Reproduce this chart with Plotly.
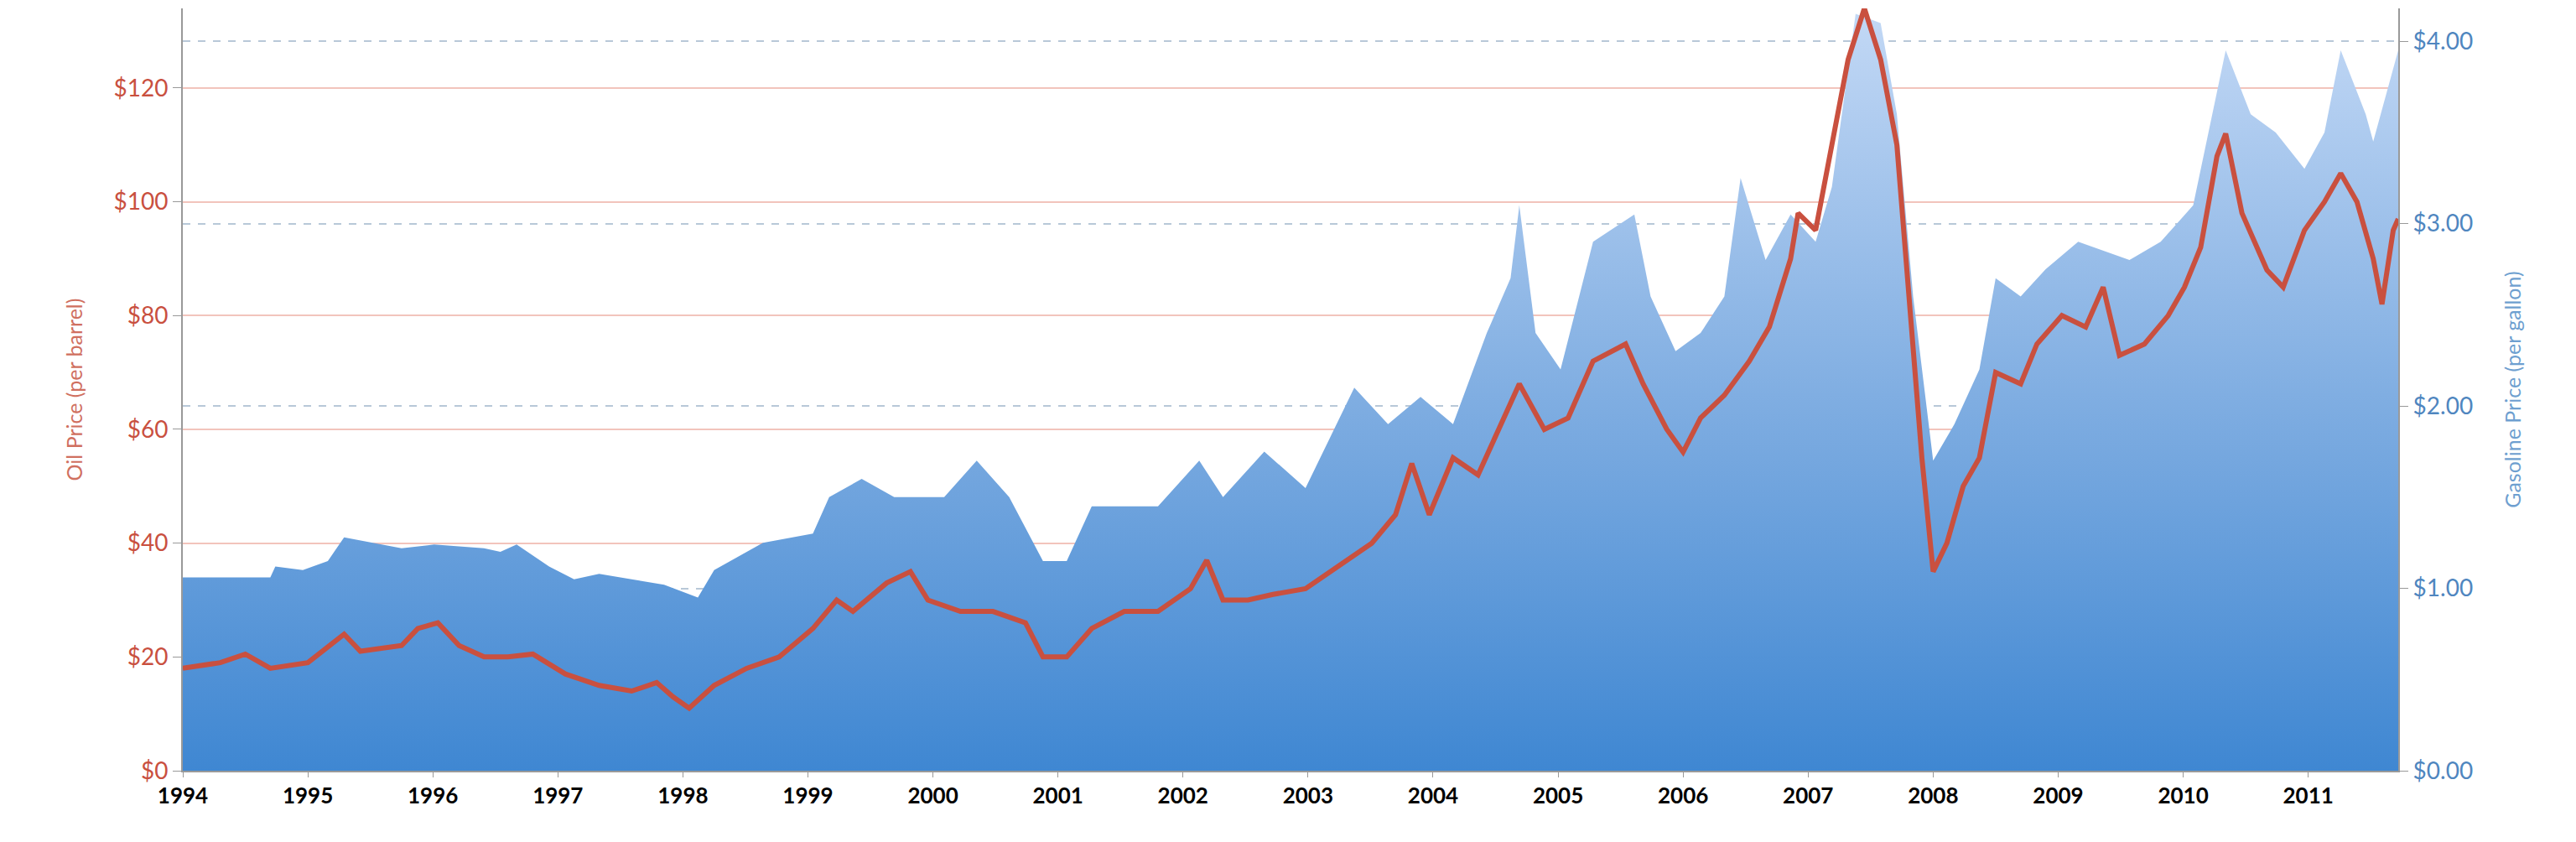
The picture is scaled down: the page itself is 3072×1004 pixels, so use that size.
import plotly.graph_objects as go

# Oil price ($/barrel), x in decimal years on the chart's axis
oil_x = [1994.00, 1994.30, 1994.50, 1994.70, 1995.00, 1995.29, 1995.42, 1995.75, 1995.88, 1996.04,
         1996.21, 1996.41, 1996.60, 1996.80, 1997.06, 1997.33, 1997.59, 1997.79, 1997.92, 1998.05,
         1998.25, 1998.51, 1998.77, 1999.04, 1999.23, 1999.36, 1999.63, 1999.82, 1999.96, 2000.22,
         2000.48, 2000.74, 2000.88, 2001.07, 2001.27, 2001.53, 2001.80, 2002.06, 2002.19, 2002.32,
         2002.52, 2002.72, 2002.98, 2003.24, 2003.51, 2003.70, 2003.83, 2003.97, 2004.16, 2004.36,
         2004.56, 2004.69, 2004.89, 2005.08, 2005.28, 2005.54, 2005.68, 2005.87, 2006.00, 2006.14,
         2006.33, 2006.53, 2006.69, 2006.86, 2006.92, 2007.06, 2007.19, 2007.32, 2007.45, 2007.58,
         2007.71, 2007.82, 2007.91, 2008.00, 2008.11, 2008.24, 2008.37, 2008.50, 2008.70, 2008.83,
         2009.03, 2009.22, 2009.36, 2009.49, 2009.69, 2009.88, 2010.01, 2010.14, 2010.27, 2010.34,
         2010.47, 2010.67, 2010.80, 2010.97, 2011.13, 2011.26, 2011.39, 2011.52, 2011.59, 2011.68,
         2011.72]
oil_y = [18, 19, 20.5, 18, 19, 24, 21, 22, 25, 26,
         22, 20, 20, 20.5, 17, 15, 14, 15.5, 13, 11,
         15, 18, 20, 25, 30, 28, 33, 35, 30, 28,
         28, 26, 20, 20, 25, 28, 28, 32, 37, 30,
         30, 31, 32, 36, 40, 45, 54, 45, 55, 52,
         62, 68, 60, 62, 72, 75, 68, 60, 56, 62,
         66, 72, 78, 90, 98, 95, 110, 125, 134, 125,
         110, 80, 55, 35, 40, 50, 55, 70, 68, 75,
         80, 78, 85, 73, 75, 80, 85, 92, 108, 112,
         98, 88, 85, 95, 100, 105, 100, 90, 82, 95,
         97]

# Gasoline price ($/gallon)
gas_x = [1994.00, 1994.70, 1994.74, 1994.96, 1995.16, 1995.29, 1995.75, 1996.01, 1996.41, 1996.54,
         1996.67, 1996.93, 1997.13, 1997.33, 1997.59, 1997.85, 1998.12, 1998.25, 1998.64, 1999.04,
         1999.17, 1999.43, 1999.69, 2000.09, 2000.35, 2000.61, 2000.88, 2001.07, 2001.27, 2001.80,
         2002.13, 2002.32, 2002.65, 2002.98, 2003.37, 2003.64, 2003.90, 2004.16, 2004.43, 2004.62,
         2004.69, 2004.82, 2005.02, 2005.28, 2005.61, 2005.74, 2005.94, 2006.14, 2006.33, 2006.46,
         2006.66, 2006.86, 2007.06, 2007.19, 2007.38, 2007.58, 2007.71, 2007.84, 2008.00, 2008.17,
         2008.37, 2008.50, 2008.70, 2008.90, 2009.16, 2009.36, 2009.57, 2009.82, 2010.08, 2010.34,
         2010.54, 2010.74, 2010.97, 2011.13, 2011.26, 2011.46, 2011.52, 2011.72]
gas_y = [1.06, 1.06, 1.12, 1.10, 1.15, 1.28, 1.22, 1.24, 1.22, 1.20,
         1.24, 1.12, 1.05, 1.08, 1.05, 1.02, 0.95, 1.10, 1.25, 1.30,
         1.50, 1.60, 1.50, 1.50, 1.70, 1.50, 1.15, 1.15, 1.45, 1.45,
         1.70, 1.50, 1.75, 1.55, 2.10, 1.90, 2.05, 1.90, 2.40, 2.70,
         3.10, 2.40, 2.20, 2.90, 3.05, 2.60, 2.30, 2.40, 2.60, 3.25,
         2.80, 3.05, 2.90, 3.20, 4.15, 4.10, 3.60, 2.60, 1.70, 1.90,
         2.20, 2.70, 2.60, 2.75, 2.90, 2.85, 2.80, 2.90, 3.10, 3.95,
         3.60, 3.50, 3.30, 3.50, 3.95, 3.60, 3.45, 3.95]

years = list(range(1994, 2012))
oil_ticks = [0, 20, 40, 60, 80, 100, 120]
gas_ticks = [0, 1, 2, 3, 4]

OIL_RED = "#c9503f"
GAS_BLUE = "#4f86bf"

fig = go.Figure()

# gasoline area on the base (right) axis so the oil line sits above it
fig.add_trace(go.Scatter(
    x=gas_x, y=gas_y, yaxis="y", mode="lines", line=dict(width=0, color="#a9c8f0"),
    fill="tozeroy",
    fillgradient=dict(type="vertical",
                      colorscale=[[0, "#3f87d2"], [0.45, "#7aaae0"], [1, "#c2d8f5"]]),
    showlegend=False))

fig.add_trace(go.Scatter(
    x=oil_x, y=oil_y, yaxis="y2", mode="lines",
    line=dict(color=OIL_RED, width=6), showlegend=False))

fig.update_layout(
    width=3072, height=1004,
    margin=dict(l=210, r=220, t=2, b=93),
    paper_bgcolor="white", plot_bgcolor="white",
    font=dict(family="Lato, Open Sans, sans-serif"),
    xaxis=dict(range=[1994, 2011.72], tickvals=years, ticktext=["<b>%d</b>" % y for y in years],
               tickfont=dict(size=26, color="black"),
               showgrid=False, showline=True, linecolor="#999999", linewidth=2,
               ticks="outside", ticklen=6, tickcolor="#999999", zeroline=False),
    yaxis=dict(range=[0, 4.18], side="right", tickvals=gas_ticks,
               ticktext=["$%.2f" % v for v in gas_ticks],
               tickfont=dict(size=28, color=GAS_BLUE),
               title=dict(text="Gasoline Price (per gallon)", font=dict(size=25, color="#6e9fd0"),
                          standoff=40),
               showgrid=True, gridcolor="#b8c8d8", griddash="dash", gridwidth=2,
               showline=True, linecolor="#999999", linewidth=2,
               ticks="outside", ticklen=10, tickcolor="#999999", zeroline=False),
    yaxis2=dict(range=[0, 134], overlaying="y", side="left", tickvals=oil_ticks,
                ticktext=["$%d" % v for v in oil_ticks],
                tickfont=dict(size=28, color=OIL_RED),
                title=dict(text="Oil Price (per barrel)", font=dict(size=25, color="#d0705f"),
                           standoff=30),
                showgrid=True, gridcolor="#f2c4bc", gridwidth=2,
                showline=True, linecolor="#999999", linewidth=2,
                ticks="outside", ticklen=10, tickcolor="#999999", zeroline=False),
)

fig.write_html("out.html")
